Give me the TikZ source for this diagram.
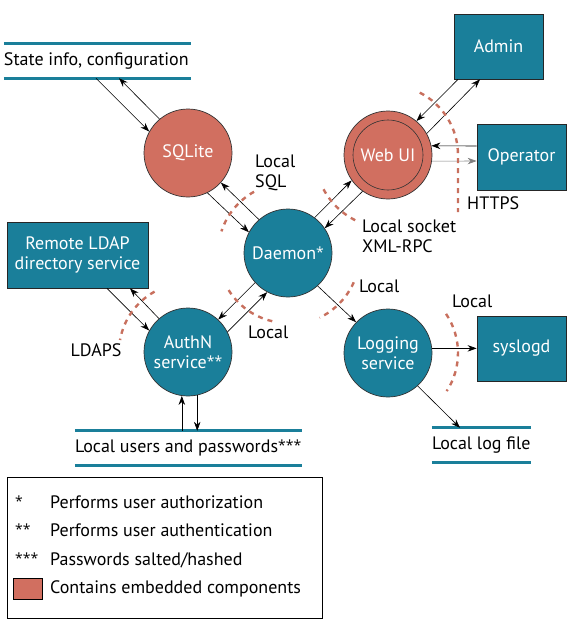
\documentclass[tikz,border=0pt]{standalone}
\usepackage{fontspec}
\setmainfont{PT Sans}
\newfontfamily\astfont{Open Sans}
\newcommand\myast{\raisebox{1.6pt}{\astfont\fontsize{14}{14}\selectfont *}}
\usetikzlibrary{arrows.meta,calc}
\definecolor{teal1}{HTML}{1A7F9A}
\definecolor{salm}{HTML}{D16F60}
\definecolor{dashc}{HTML}{C8705E}
\begin{document}
\begin{tikzpicture}[x=1pt,y=-1pt,
  every node/.style={font=\fontsize{18}{20}\selectfont},
  proc/.style={circle, draw=black!80, line width=0.7pt, fill=teal1, text=white, minimum size=88pt, inner sep=0pt, align=center},
  emb/.style={proc, fill=salm},
  ext/.style={rectangle, draw=black!85, line width=0.8pt, fill=teal1, text=white, inner sep=0pt, align=center},
  store/.style={inner sep=0pt, minimum height=34pt},
  lbl/.style={anchor=west, align=left, inner sep=0pt},
  arr/.style={-{Stealth[length=9pt,width=6.5pt]}, line width=0.6pt},
  bnd/.style={dashc, line width=2.4pt, dash pattern=on 5pt off 5pt},
  rail/.style={teal1, line width=3pt}
]
\useasboundingbox (0,0) rectangle (567,635);
% processes
\node[emb] (sql) at (188,153) {SQLite};
\node[emb] (web) at (388,155) {Web UI};
\draw[black!80, line width=0.6pt] (web) circle[radius=35];
\node[proc] (dae) at (288,253) {Daemon\myast};
\node[proc] (auth) at (188,352) {AuthN\\service\myast\myast};
\node[proc] (log) at (388,353) {Logging\\service};
% externals
\node[ext, minimum width=89pt, minimum height=65pt] (admin) at (498.5,46.5) {Admin};
\node[ext, minimum width=89pt, minimum height=66pt] (oper) at (521.5,157) {Operator};
\node[ext, minimum width=141pt, minimum height=66pt] (ldap) at (77.5,255) {Remote LDAP\\directory service};
\node[ext, minimum width=89pt, minimum height=65pt] (sys) at (521.5,348.5) {syslogd};
% stores
\node[store] (state) at (97.5,61) {\makebox[187pt][l]{State info, configuration}};
\node[store] (users) at (188.5,448) {\makebox[227pt][l]{Local users and passwords\myast\myast\myast}};
\node[store] (logf) at (481.5,445) {\makebox[99pt][l]{Local log file}};
\foreach \s in {state,users,logf}{
  \draw[rail] (\s.north west) -- (\s.north east);
  \draw[rail] (\s.south west) -- (\s.south east);
}
% flows
\draw[arr] ([xshift=-1.5pt]state.south) -- (sql.151);
\draw[arr] (sql.130) -- ([xshift=21.5pt]state.south);
\draw[arr] (sql.-64) -- (dae.152);
\draw[arr] (dae.131) -- (sql.-42);
\draw[arr] (dae.53) -- (web.215);
\draw[arr] (web.235) -- (dae.34);
\draw[arr] ([xshift=-40.5pt]admin.south) -- (web.50);
\draw[arr] (web.29) -- ([xshift=-18.5pt]admin.south);
\draw[arr] ([yshift=11pt]oper.west) -- (web.12);
\draw[arr, draw=gray] (web.-8) -- ([yshift=-4pt]oper.west);
\draw[arr] ([xshift=29.5pt]ldap.south) -- (auth.151);
\draw[arr] (auth.131) -- ([xshift=52.5pt]ldap.south);
\draw[arr] (dae.222) -- (auth.47);
\draw[arr] (auth.27) -- (dae.242);
\draw[arr] (users.north -| auth.262) -- (auth.262);
\draw[arr] (auth.-78) -- (users.north -| auth.-78);
\draw[arr] (dae.-48) -- (log.136);
\draw[arr] (log.6) -- (sys.west |- log.6);
\draw[arr] (log.-48) -- ([xshift=-21.5pt]logf.north);
% trust boundaries
\draw[bnd] (dae) ++(-119:70) arc[start angle=-119,end angle=-162,radius=70];
\draw[bnd] (web) ++(-208:73) arc[start angle=-208,end angle=-246,radius=73];
\draw[bnd] (web) ++(-63:70) arc[start angle=-63,end angle=0,radius=70] -- ++(0,57);
\draw[bnd] (dae) ++(-212:70) arc[start angle=-212,end angle=-257,radius=70];
\draw[bnd] (dae) ++(24:72) arc[start angle=24,end angle=64,radius=72];
\draw[bnd] (auth) ++(-119:69) arc[start angle=-119,end angle=-170,radius=69];
\draw[bnd] (log) ++(-34:70) arc[start angle=-34,end angle=33,radius=70];
% labels
\node[lbl] (lsql) at (255,173) {Local\\SQL};
\node[lbl] (lsock) at (362,236) {Local socket\\XML-RPC};
\node[lbl] (https) at (467,203) {HTTPS};
\node[lbl] (llog) at (359,286) {Local};
\node[lbl] (lsys) at (452,301) {Local};
\node[lbl] (lauth) at (248,332) {Local};
\node (ldaps) at (96,350) {LDAPS};
% legend
\node[draw=black, line width=0.8pt, minimum width=315pt, minimum height=141pt, inner sep=0pt] (leg) at (164.5,547.5) {};
\node[anchor=base west, inner sep=0pt] (k1) at (15,508) {\myast};
\node[anchor=base west, inner sep=0pt] (t1) at (50,508) {Performs user authorization};
\node[anchor=base west, inner sep=0pt] (k2) at (15,536.5) {\myast\myast};
\node[anchor=base west, inner sep=0pt] (t2) at (50,536.5) {Performs user authentication};
\node[anchor=base west, inner sep=0pt] (k3) at (15,565) {\myast\myast\myast};
\node[anchor=base west, inner sep=0pt] (t3) at (50,565) {Passwords salted/hashed};
\node[draw=black, line width=0.7pt, fill=salm, minimum width=29pt, minimum height=21pt, inner sep=0pt] (sw) at (27.5,588.5) {};
\node[anchor=base west, inner sep=0pt] (t4) at (50,593) {Contains embedded components};
\end{tikzpicture}
\end{document}
